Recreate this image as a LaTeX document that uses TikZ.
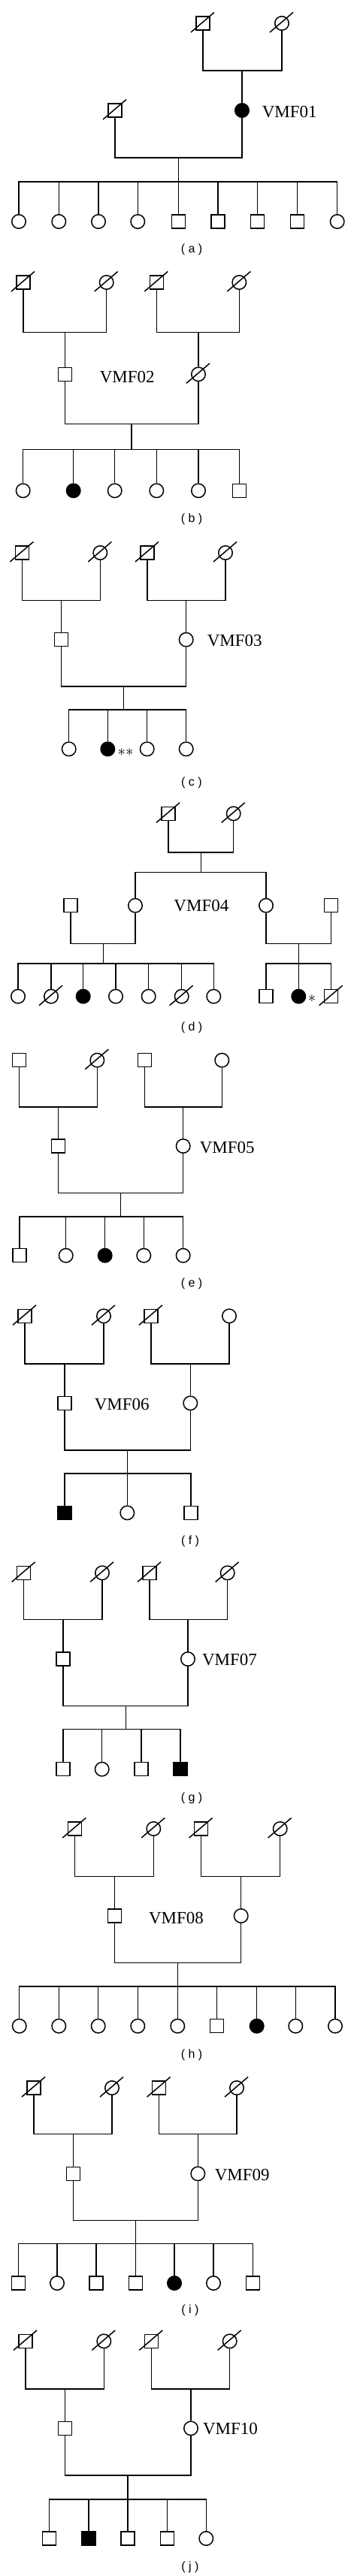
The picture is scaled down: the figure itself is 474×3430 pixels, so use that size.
\documentclass[tikz,border=0pt]{standalone}
\usepackage{fontspec}
\setmainfont{Liberation Serif}
\newfontfamily\capfont{Liberation Sans}
\newcommand\deceased[1]{\draw ([shift={(-16,12)}]#1.center) -- ([shift={(15,-14.5)}]#1.center);}
% person: name, x, y, style
\newcommand\pers[4]{\node[#4] (#1) at (#2,#3) {};}
% child: name, x, y, style, sibship coordinate
\newcommand\kid[5]{\node[#4] (#1) at (#2,#3) {}; \draw (#5) -| (#1);}
% marriage: left, right, coord name, x, y
\newcommand\marry[5]{\coordinate (#3) at (#4,#5); \draw (#1) |- (#3) -| (#2);}
\begin{document}
\begin{tikzpicture}[x=1pt,y=-1pt, line width=1.5pt,
 male/.style={draw, rectangle, minimum size=18pt, inner sep=0pt, fill=white},
 female/.style={draw, circle, minimum size=18.5pt, inner sep=0pt, fill=white},
 maff/.style={male, fill=black},
 faff/.style={female, fill=black},
 lbl/.style={anchor=base west, font=\fontsize{23}{23}\selectfont, inner sep=0pt},
 captxt/.style={font=\capfont\fontsize{16}{16}\selectfont, inner sep=0pt},
 startxt/.style={font=\fontsize{20}{20}\selectfont, inner sep=0pt}]
\useasboundingbox (0,0) rectangle (474,3430);

% ---------------- (a)
\pers{a1}{270}{31}{male}\deceased{a1}
\pers{a2}{375}{31}{female}\deceased{a2}
\pers{a3}{153}{147}{male}\deceased{a3}
\pers{a4}{322}{147}{faff}
\node[lbl] (ta) at (348,156) {VMF01};
\marry{a1}{a2}{am1}{322}{94}
\draw (am1) -- (a4);
\marry{a3}{a4}{am2}{237.3}{210}
\coordinate (as) at (237.3,242);
\draw (am2) -- (as);
\kid{ac1}{25}{295}{female}{as}
\kid{ac2}{78.3}{295}{female}{as}
\kid{ac3}{131}{295}{female}{as}
\kid{ac4}{183.3}{295}{female}{as}
\kid{ac5}{237.3}{295}{male}{as}
\kid{ac6}{290}{295}{male}{as}
\kid{ac7}{342.7}{295}{male}{as}
\kid{ac8}{395.7}{295}{male}{as}
\kid{ac9}{448.7}{295}{female}{as}
\node[captxt] (ca) at (255,332) {( a )};

% ---------------- (b)
\pers{b1}{31}{376}{male}\deceased{b1}
\pers{b2}{141.7}{376}{female}\deceased{b2}
\pers{b3}{208.3}{376}{male}\deceased{b3}
\pers{b4}{318.3}{376}{female}\deceased{b4}
\pers{b5}{86.7}{498.3}{male}
\pers{b6}{264}{498.3}{female}\deceased{b6}
\node[lbl] (tb) at (132,509) {VMF02};
\marry{b1}{b2}{bm1}{86.7}{442.3}
\draw (bm1) -- (b5);
\marry{b3}{b4}{bm2}{264}{442.3}
\draw (bm2) -- (b6);
\marry{b5}{b6}{bm3}{175}{564.3}
\coordinate (bs) at (175,598.3);
\draw (bm3) -- (bs);
\kid{bc1}{30.7}{653.3}{female}{bs}
\kid{bc2}{97.7}{653.3}{faff}{bs}
\kid{bc3}{152.7}{653.3}{female}{bs}
\kid{bc4}{208.3}{653.3}{female}{bs}
\kid{bc5}{264}{653.3}{female}{bs}
\kid{bc6}{318.3}{653.3}{male}{bs}
\node[captxt] (cb) at (255,691.7) {( b )};

% ---------------- (c)
\pers{c1}{29.3}{736}{male}\deceased{c1}
\pers{c2}{133.3}{736}{female}\deceased{c2}
\pers{c3}{196}{736}{male}\deceased{c3}
\pers{c4}{300}{736}{female}\deceased{c4}
\pers{c5}{81.3}{851.7}{male}
\pers{c6}{247.7}{851.7}{female}
\node[lbl] (tc) at (275,860) {VMF03};
\marry{c1}{c2}{cm1}{81.3}{799.3}
\draw (cm1) -- (c5);
\marry{c3}{c4}{cm2}{247.7}{799.3}
\draw (cm2) -- (c6);
\marry{c5}{c6}{cm3}{164.7}{914}
\coordinate (cs) at (164.7,945);
\draw (cm3) -- (cs);
\kid{cc1}{91.7}{997.3}{female}{cs}
\kid{cc2}{143.3}{997.3}{faff}{cs}
\kid{cc3}{195.7}{997.3}{female}{cs}
\kid{cc4}{247.7}{997.3}{female}{cs}
\node[startxt] (sc) at (167,1001.5) {${\ast}{\ast}$};
\node[captxt] (cc) at (255,1042.7) {( c )};

% ---------------- (d)
\pers{d1}{224}{1083.3}{male}\deceased{d1}
\pers{d2}{310.7}{1083.3}{female}\deceased{d2}
\pers{d3}{180}{1205.7}{female}
\pers{d4}{354}{1205.7}{female}
\pers{d5}{94}{1205.7}{male}
\pers{d6}{440.7}{1205.7}{male}
\node[lbl] (td) at (230.7,1213.3) {VMF04};
\marry{d1}{d2}{dm1}{267.7}{1135}
\coordinate (ds1) at (267.7,1161.7);
\draw (dm1) -- (ds1);
\draw (ds1) -| (d3);
\draw (ds1) -| (d4);
\marry{d5}{d3}{dm2}{137.3}{1256.7}
\coordinate (ds2) at (137.3,1283);
\draw (dm2) -- (ds2);
\kid{dc1}{24}{1326.7}{female}{ds2}
\kid{dc2}{68}{1326.7}{female}{ds2}\deceased{dc2}
\kid{dc3}{110.7}{1326.7}{faff}{ds2}
\kid{dc4}{154}{1326.7}{female}{ds2}
\kid{dc5}{197.7}{1326.7}{female}{ds2}
\kid{dc6}{241.7}{1326.7}{female}{ds2}\deceased{dc6}
\kid{dc7}{284.3}{1326.7}{female}{ds2}
\marry{d4}{d6}{dm3}{397.3}{1256.7}
\coordinate (ds3) at (397.3,1283);
\draw (dm3) -- (ds3);
\kid{dc8}{354}{1326.7}{male}{ds3}
\kid{dc9}{397.3}{1326.7}{faff}{ds3}
\kid{dc10}{440.7}{1326.7}{male}{ds3}\deceased{dc10}
\node[startxt] (sd) at (415,1329.3) {$\ast$};
\node[captxt] (cd) at (255,1368.3) {( d )};

% ---------------- (e)
\pers{e1}{25.3}{1411.7}{male}
\pers{e2}{129.3}{1411.7}{female}\deceased{e2}
\pers{e3}{192.3}{1411.7}{male}
\pers{e4}{295.3}{1411.7}{female}
\pers{e5}{77.7}{1526}{male}
\pers{e6}{243.7}{1526}{female}
\node[lbl] (te) at (265,1535) {VMF05};
\marry{e1}{e2}{em1}{77.7}{1474}
\draw (em1) -- (e5);
\marry{e3}{e4}{em2}{243.7}{1474}
\draw (em2) -- (e6);
\marry{e5}{e6}{em3}{160.7}{1588.3}
\coordinate (es) at (160.7,1620);
\draw (em3) -- (es);
\kid{ec1}{26}{1671.7}{male}{es}
\kid{ec2}{87.7}{1671.7}{female}{es}
\kid{ec3}{139.7}{1671.7}{faff}{es}
\kid{ec4}{191.3}{1671.7}{female}{es}
\kid{ec5}{243.7}{1671.7}{female}{es}
\node[captxt] (ce) at (255,1709) {( e )};

% ---------------- (f)
\pers{f1}{33}{1752.3}{male}\deceased{f1}
\pers{f2}{138}{1752.3}{female}\deceased{f2}
\pers{f3}{201}{1752.3}{male}\deceased{f3}
\pers{f4}{305}{1752.3}{female}
\pers{f5}{86}{1868.3}{male}
\pers{f6}{253.3}{1868.3}{female}
\node[lbl] (tf) at (125,1877.3) {VMF06};
\marry{f1}{f2}{fm1}{86}{1816}
\draw (fm1) -- (f5);
\marry{f3}{f4}{fm2}{253.3}{1816}
\draw (fm2) -- (f6);
\marry{f5}{f6}{fm3}{169.3}{1931}
\coordinate (fs) at (169.3,1962);
\draw (fm3) -- (fs);
\kid{fc1}{86}{2014.3}{maff}{fs}
\kid{fc2}{169.3}{2014.3}{female}{fs}
\kid{fc3}{254}{2014.3}{male}{fs}
\node[captxt] (cf) at (253,2052.7) {( f )};

% ---------------- (g)
\pers{g1}{31.7}{2094.3}{male}\deceased{g1}
\pers{g2}{136}{2094.3}{female}\deceased{g2}
\pers{g3}{199}{2094.3}{male}\deceased{g3}
\pers{g4}{302.7}{2094.3}{female}\deceased{g4}
\pers{g5}{84}{2209}{male}
\pers{g6}{250}{2209}{female}
\node[lbl] (tg) at (268.3,2217.7) {VMF07};
\marry{g1}{g2}{gm1}{84}{2156.7}
\draw (gm1) -- (g5);
\marry{g3}{g4}{gm2}{250}{2156.7}
\draw (gm2) -- (g6);
\marry{g5}{g6}{gm3}{167.3}{2271.7}
\coordinate (gs) at (167.3,2302.7);
\draw (gm3) -- (gs);
\kid{gc1}{84}{2355.7}{male}{gs}
\kid{gc2}{135.7}{2355.7}{female}{gs}
\kid{gc3}{188}{2355.7}{male}{gs}
\kid{gc4}{240}{2355.7}{maff}{gs}
\node[captxt] (cg) at (255,2394) {( g )};

% ---------------- (h)
\pers{h1}{99.3}{2435}{male}\deceased{h1}
\pers{h2}{204.3}{2435}{female}\deceased{h2}
\pers{h3}{267.7}{2435}{male}\deceased{h3}
\pers{h4}{372.7}{2435}{female}\deceased{h4}
\pers{h5}{152.7}{2551}{male}
\pers{h6}{320.7}{2551}{female}
\node[lbl] (th) at (197.3,2561) {VMF08};
\marry{h1}{h2}{hm1}{152.7}{2498.3}
\draw (hm1) -- (h5);
\marry{h3}{h4}{hm2}{320.7}{2498.3}
\draw (hm2) -- (h6);
\marry{h5}{h6}{hm3}{236.3}{2613.3}
\coordinate (hs) at (236.3,2645);
\draw (hm3) -- (hs);
\kid{hc1}{25.7}{2697.7}{female}{hs}
\kid{hc2}{78.3}{2697.7}{female}{hs}
\kid{hc3}{130.7}{2697.7}{female}{hs}
\kid{hc4}{183.3}{2697.7}{female}{hs}
\kid{hc5}{236.3}{2697.7}{female}{hs}
\kid{hc6}{288.7}{2697.7}{male}{hs}
\kid{hc7}{341.7}{2697.7}{faff}{hs}
\kid{hc8}{393.3}{2697.7}{female}{hs}
\kid{hc9}{446}{2697.7}{female}{hs}
\node[captxt] (ch) at (255,2736) {( h )};

% ---------------- (i)
\pers{i1}{45}{2780}{male}\deceased{i1}
\pers{i2}{149}{2780}{female}\deceased{i2}
\pers{i3}{211.7}{2780}{male}\deceased{i3}
\pers{i4}{315}{2780}{female}\deceased{i4}
\pers{i5}{97.3}{2894.3}{male}
\pers{i6}{263.3}{2894.3}{female}
\node[lbl] (ti) at (285,2903.3) {VMF09};
\marry{i1}{i2}{im1}{97.3}{2841.7}
\draw (im1) -- (i5);
\marry{i3}{i4}{im2}{263.3}{2841.7}
\draw (im2) -- (i6);
\marry{i5}{i6}{im3}{180.3}{2956.7}
\coordinate (is) at (180.3,2987.7);
\draw (im3) -- (is);
\kid{ic1}{24.3}{3040}{male}{is}
\kid{ic2}{76}{3040}{female}{is}
\kid{ic3}{128}{3040}{male}{is}
\kid{ic4}{180.3}{3040}{male}{is}
\kid{ic5}{232}{3040}{faff}{is}
\kid{ic6}{284}{3040}{female}{is}
\kid{ic7}{336.7}{3040}{male}{is}
\node[captxt] (ci) at (253,3076.7) {( i )};

% ---------------- (j)
\pers{j1}{34}{3117.3}{male}\deceased{j1}
\pers{j2}{138.3}{3117.3}{female}\deceased{j2}
\pers{j3}{201.3}{3117.3}{male}\deceased{j3}
\pers{j4}{305.7}{3117.3}{female}\deceased{j4}
\pers{j5}{86.7}{3233.3}{male}
\pers{j6}{254}{3233.3}{female}
\node[lbl] (tj) at (269.3,3241.7) {VMF10};
\marry{j1}{j2}{jm1}{86.7}{3181}
\draw (jm1) -- (j5);
\marry{j3}{j4}{jm2}{254}{3181}
\draw (jm2) -- (j6);
\marry{j5}{j6}{jm3}{170}{3296}
\coordinate (js) at (170,3328);
\draw (jm3) -- (js);
\kid{jc1}{65.7}{3380}{male}{js}
\kid{jc2}{118}{3380}{maff}{js}
\kid{jc3}{170}{3380}{male}{js}
\kid{jc4}{222.3}{3380}{male}{js}
\kid{jc5}{274.3}{3380}{female}{js}
\node[captxt] (cj) at (253,3418.3) {( j )};
\end{tikzpicture}
\end{document}
